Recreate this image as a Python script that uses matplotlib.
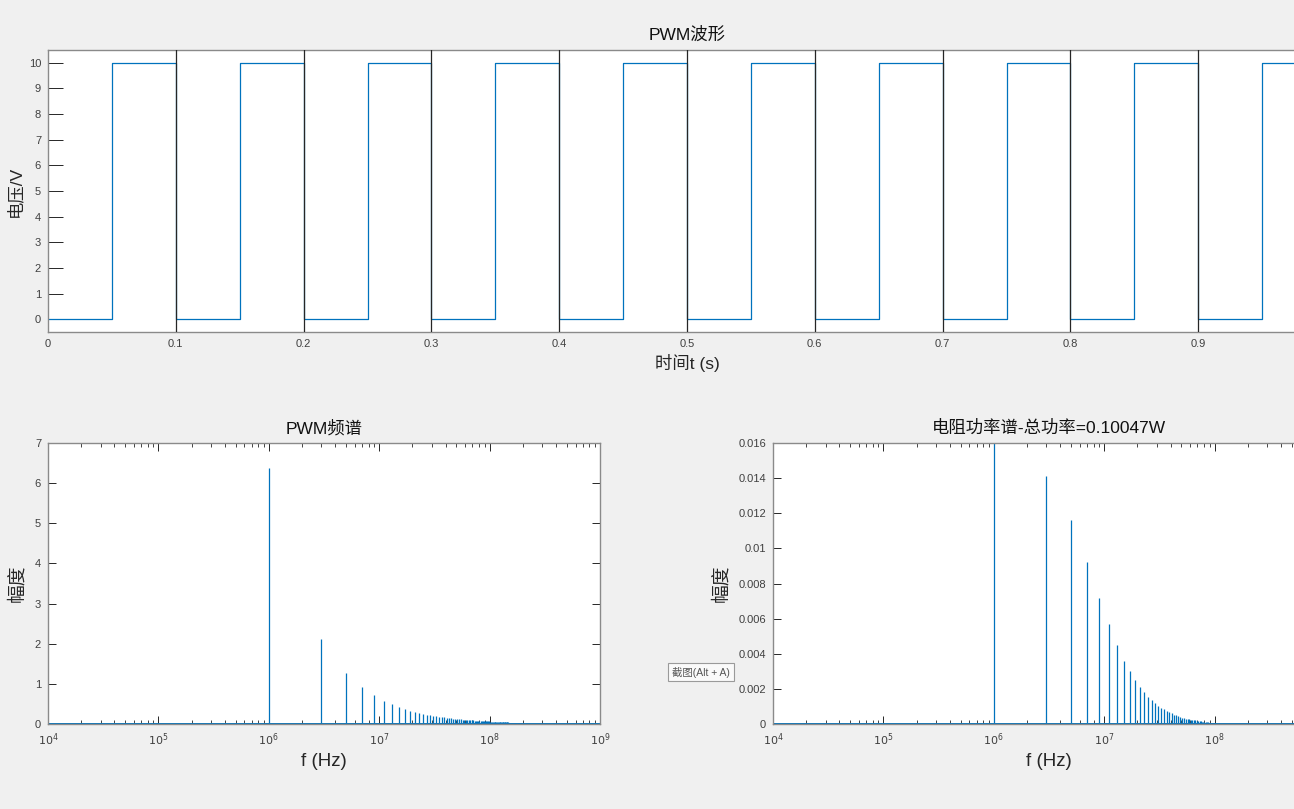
import numpy as np
import matplotlib
matplotlib.use("Agg")
import matplotlib.pyplot as plt
from matplotlib.ticker import FixedLocator, LogLocator, NullFormatter

plt.rcParams['font.family'] = ['Liberation Sans', 'Noto Sans CJK SC', 'DejaVu Sans']

# ---------------- data ----------------
# PWM waveform: switching instants (s) and voltage level after each instant (V)
t_switch = [0.0, 0.05, 0.10, 0.15, 0.20, 0.25, 0.30, 0.35, 0.40, 0.45, 0.50,
            0.55, 0.60, 0.65, 0.70, 0.75, 0.80, 0.85, 0.90, 0.95, 1.00]
v_level = [0, 10, 0, 10, 0, 10, 0, 10, 0, 10, 0,
           10, 0, 10, 0, 10, 0, 10, 0, 10, 10]
edge_marks = [0.1, 0.2, 0.3, 0.4, 0.5, 0.6, 0.7, 0.8, 0.9, 1.0]

fundamental_hz = 1e6
harmonic_n = [1, 3, 5, 7, 9, 11, 13, 15, 17, 19, 21, 23, 25, 27, 29, 31, 33, 35, 37, 39,
              41, 43, 45, 47, 49, 51, 53, 55, 57, 59, 61, 63, 65, 67, 69, 71, 73, 75, 77, 79,
              81, 83, 85, 87, 89, 91, 93, 95, 97, 99, 101, 103, 105, 107, 109, 111, 113, 115,
              117, 119, 121, 123, 125, 127, 129, 131, 133, 135, 137, 139, 141, 143, 145, 147,
              149, 151, 153, 155, 157, 159, 161, 163, 165, 167, 169, 171, 173, 175, 177, 179,
              181, 183, 185, 187, 189, 191, 193, 195, 197, 199]

# PWM amplitude spectrum (one value per odd harmonic above)
amp_spectrum = [6.37, 2.12, 1.27, 0.91, 0.71, 0.58, 0.49, 0.42, 0.37, 0.335,
                0.303, 0.277, 0.255, 0.236, 0.22, 0.205, 0.193, 0.182, 0.172, 0.163,
                0.155, 0.148, 0.141, 0.135, 0.13, 0.125, 0.12, 0.116, 0.112, 0.108,
                0.104, 0.101, 0.098, 0.095, 0.092, 0.09, 0.087, 0.085, 0.083, 0.081,
                0.079, 0.077, 0.075, 0.073, 0.072, 0.07, 0.068, 0.067, 0.066, 0.064,
                0.062, 0.061, 0.059, 0.058, 0.057, 0.056, 0.055, 0.054, 0.053, 0.052,
                0.051, 0.05, 0.049, 0.048, 0.047, 0.046, 0.045, 0.044, 0.043, 0.042,
                0.041, 0.04, 0.039, 0.038, 0.037, 0.036, 0.035, 0.034, 0.033, 0.032,
                0.031, 0.03, 0.029, 0.028, 0.027, 0.026, 0.025, 0.024, 0.023, 0.022,
                0.021, 0.02, 0.019, 0.018, 0.017, 0.016, 0.015, 0.014, 0.013, 0.012]

# Resistor power spectrum (W) for odd harmonics 1..99
power_spectrum = [0.0175, 0.0141, 0.0116, 0.0092, 0.0072, 0.0057, 0.0045, 0.0036, 0.0030, 0.0025,
                  0.0021, 0.0018, 0.00155, 0.00135, 0.0012, 0.00105, 0.00093, 0.00083, 0.00074, 0.00066,
                  0.0006, 0.00054, 0.00049, 0.00045, 0.00041, 0.00037, 0.00034, 0.00031, 0.00029, 0.00027,
                  0.00025, 0.00023, 0.00021, 0.0002, 0.00018, 0.00017, 0.00016, 0.00015, 0.00014, 0.00013,
                  0.00012, 0.00011, 0.0001, 0.00009, 0.00008, 0.00007, 0.00006, 0.00005, 0.00004, 0.00003]

total_power = 0.10047

top_yticks = [0, 1, 2, 3, 4, 5, 6, 7, 8, 9, 10]
top_xticks = [0, 0.1, 0.2, 0.3, 0.4, 0.5, 0.6, 0.7, 0.8, 0.9, 1.0]
# last label lies outside the visible (cropped) window in the reference
top_xticklabels = ['0', '0.1', '0.2', '0.3', '0.4', '0.5', '0.6', '0.7', '0.8', '0.9', '']
amp_yticks = [0, 1, 2, 3, 4, 5, 6, 7]
pow_yticks = [0, 0.002, 0.004, 0.006, 0.008, 0.01, 0.012, 0.014, 0.016]
pow_yticklabels = ['0', '0.002', '0.004', '0.006', '0.008', '0.01', '0.012', '0.014', '0.016']
log_ticks = [1e4, 1e5, 1e6, 1e7, 1e8, 1e9]
log_labels_full = ['$10^{4}$', '$10^{5}$', '$10^{6}$', '$10^{7}$', '$10^{8}$', '$10^{9}$']
log_labels_cropped = ['$10^{4}$', '$10^{5}$', '$10^{6}$', '$10^{7}$', '$10^{8}$', '']

# ---------------- style ----------------
BG = '#f0f0f0'
LINE = '#0072BD'
AX = '#262626'
TICKLAB = '#404040'

W, H = 1294, 809
fig = plt.figure(figsize=(W / 100, H / 100), dpi=100, facecolor=BG)


def px_axes(x0, y0, x1, y1):
    return fig.add_axes([x0 / W, 1 - y1 / H, (x1 - x0) / W, (y1 - y0) / H])


def style(ax, ticklen=5.5):
    ax.set_facecolor('white')
    for s in ax.spines.values():
        s.set_color('#8a8a8a')
        s.set_linewidth(1.0)
    ax.tick_params(which='major', direction='in', length=ticklen, width=0.7,
                   color=AX, labelcolor=TICKLAB, labelsize=8, top=True, right=True, pad=5)
    ax.tick_params(which='minor', direction='in', length=2.8, width=0.6,
                   color=AX, top=True, right=True)


# ---- top: PWM waveform ----
ax1 = px_axes(48, 50, 1326, 332)
style(ax1, ticklen=11)
ax1.step(t_switch, v_level, where='post', color=LINE, lw=0.9)
for xm in edge_marks:
    ax1.axvline(xm, color=AX, lw=0.9, zorder=3)
ax1.set_xlim(0, 1)
ax1.set_ylim(-0.5, 10.5)
ax1.set_yticks(top_yticks)
ax1.set_xticks(top_xticks)
ax1.set_xticklabels(top_xticklabels)
ax1.set_title('PWM波形', fontsize=12.5, pad=7, color='#111111')
ax1.set_xlabel('时间t (s)', fontsize=12.5, labelpad=4, color='#262626')
ax1.set_ylabel('电压/V', fontsize=12.5, labelpad=4, color='#262626')

freqs = [n * fundamental_hz for n in harmonic_n]


def spectrum(ax, f, vals, labels):
    ax.vlines(f[:len(vals)], 0, vals, color=LINE, lw=0.9)
    ax.plot([1e4, 1e9], [0, 0], color=LINE, lw=1.4)
    ax.set_xscale('log')
    ax.set_xlim(1e4, 1e9)
    ax.xaxis.set_major_locator(FixedLocator(log_ticks))
    ax.set_xticklabels(labels)
    ax.xaxis.set_minor_locator(LogLocator(base=10, subs=np.arange(2, 10)))
    ax.xaxis.set_minor_formatter(NullFormatter())
    ax.set_xlabel('f (Hz)', fontsize=13.5, labelpad=4, color='#262626')
    ax.set_ylabel('幅度', fontsize=13.5, labelpad=6, color='#262626')


# ---- bottom left: amplitude spectrum ----
ax2 = px_axes(48, 443, 600, 724)
style(ax2)
spectrum(ax2, freqs, amp_spectrum, log_labels_full)
ax2.set_ylim(0, 7)
ax2.set_yticks(amp_yticks)
ax2.set_title('PWM频谱', fontsize=12.5, pad=7, color='#111111')

# ---- bottom right: power spectrum ----
ax3 = px_axes(773, 443, 1325, 724)
style(ax3)
spectrum(ax3, freqs, power_spectrum, log_labels_cropped)
ax3.set_ylim(0, 0.016)
ax3.set_yticks(pow_yticks)
ax3.set_yticklabels(pow_yticklabels)
ax3.set_title(f'电阻功率谱-总功率={total_power}W', fontsize=12.5, pad=7, color='#111111')

# screenshot tooltip present in the reference
fig.text(672 / W, 1 - 672 / H, '截图(Alt + A)', fontsize=7.5, color='#555555',
         va='center', ha='left',
         bbox=dict(boxstyle='square,pad=0.35', facecolor='#fafafa', edgecolor='#9a9a9a', lw=0.8))

fig.savefig('out.png', dpi=100, facecolor=BG)
